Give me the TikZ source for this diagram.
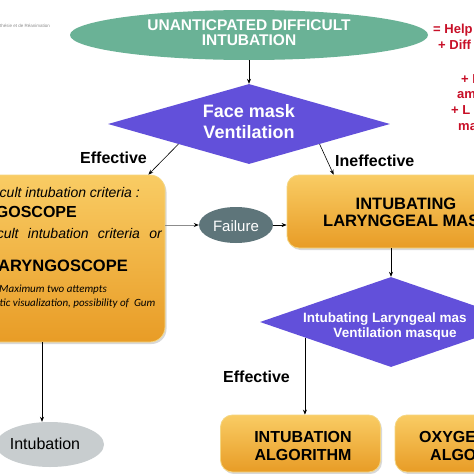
\documentclass[tikz,border=0pt]{standalone}
\usepackage{fontspec}
\setmainfont{Liberation Sans}
\newfontfamily\calib{Carlito}
\usetikzlibrary{shapes.geometric,arrows.meta,shadows,calc}
\definecolor{grn}{RGB}{106,178,150}
\definecolor{prp}{RGB}{98,80,218}
\definecolor{failc}{RGB}{94,117,122}
\definecolor{intc}{RGB}{200,205,207}
\definecolor{orT}{RGB}{249,204,100}
\definecolor{orB}{RGB}{232,156,38}
\definecolor{orE}{RGB}{244,214,130}
\definecolor{redt}{RGB}{200,16,40}
\begin{document}
\begin{tikzpicture}[x=1pt,y=-1pt,
 arr/.style={draw=black, line width=0.6pt, -{Stealth[length=5pt,width=4pt]}},
 garr/.style={draw=black!45, line width=1pt, -{Stealth[length=5pt,width=4pt,color=black]}},
 obox/.style={rectangle, rounded corners=12pt, top color=orT, bottom color=orB, draw=orE, line width=0.8pt, inner sep=0,
   drop shadow={opacity=0.3,shadow xshift=1.5pt,shadow yshift=-2pt}},
 dia/.style={diamond, fill=prp, inner sep=0},
 ell/.style={ellipse, inner sep=0},
 txt/.style={inner sep=0},
 fb/.style={font=\fontsize{#1}{#1}\selectfont\bfseries},
 fr/.style={font=\fontsize{#1}{#1}\selectfont},
 fi/.style={font=\fontsize{#1}{#1}\selectfont\itshape},
 fc/.style={font=\fontsize{#1}{#1}\selectfont\calib\itshape},
]
\useasboundingbox (0,0) rectangle (474,474);
\clip (0,0) rectangle (474,474);
\fill[white] (0,0) rectangle (474,474);

% tiny header text
\node[txt, anchor=base west, fr=4.5, text=black!45] (hdr) at (0,27) {thésie et de Réanimation};

% top ellipse
\node[ell, fill=grn, minimum width=358, minimum height=50] (top) at (249,35) {};
\node[txt, align=center, font=\fontsize{15.5}{14.5}\selectfont\bfseries, text=white] (t1) at (249,32.5) {UNANTICPATED DIFFICULT\\INTUBATION};

% red side text
\node[txt, anchor=base west, fb=13, text=redt] (r1) at (433,33) {= Help};
\node[txt, anchor=base west, fb=13, text=redt] (r2) at (438,49) {+ Diff};
\node[txt, anchor=base west, fb=13, text=redt] (r3) at (461,83) {+ I};
\node[txt, anchor=base west, fb=13, text=redt] (r4) at (457,98) {am};
\node[txt, anchor=base west, fb=13, text=redt] (r5) at (451,114) {+ L};
\node[txt, anchor=base west, fb=13, text=redt] (r6) at (458,130) {ma};

% face mask diamond
\node[dia, minimum width=282, minimum height=80] (fm) at (249,124) {};
\node[txt, anchor=base, fb=18, text=white] (fm1) at (249,117) {Face mask};
\node[txt, anchor=base, fb=18, text=white] (fm2) at (249,138) {Ventilation};

% left box
\node[obox, minimum width=195, minimum height=167, rounded corners=15pt] (lb) at (67.5,258.5) {};
\node[txt, anchor=base east, fi=14] (l1) at (140,197) {cult intubation criteria :};
\node[txt, anchor=base east, fb=16] (l2) at (77,217) {GOSCOPE};
\node[txt, anchor=base east, fi=14] (l3) at (162,238) {\makebox[165pt][s]{cult intubation criteria or}};
\node[txt, anchor=base east, fb=16.5] (l4) at (128,271) {ARYNGOSCOPE};
\node[txt, anchor=base west, fc=11] (l5) at (-1,292) {Maximum two attempts};
\node[txt, anchor=base west, fc=11] (l6) at (-0.5,306) {tic visualization, possibility of\ \ Gum};

% failure ellipse
\node[ell, fill=failc, minimum width=74, minimum height=36] (fail) at (236,225) {};
\node[txt, anchor=base, fr=15, text=white] (failt) at (236,231) {Failure};

% right box
\node[obox, minimum width=233, minimum height=73] (rb) at (403.5,211.5) {};
\node[txt, anchor=base, fb=16.5] (rb1) at (406,209) {INTUBATING};
\node[txt, anchor=base west, fb=16.5] (rb2) at (323,226) {LARYNGGEAL MAS};

% second diamond
\node[dia, minimum width=262, minimum height=90] (d2) at (391,322) {};
\node[txt, anchor=base west, fb=13.5, text=white] (d2a) at (303,322) {Intubating Laryngeal mas};
\node[txt, anchor=base, fb=13.5, text=white] (d2b) at (395,337) {Ventilation masque};

% bottom boxes
\node[obox, minimum width=160, minimum height=57] (ia) at (300.5,443.5) {};
\node[txt, anchor=base, fb=16] (ia1) at (303,442) {INTUBATION};
\node[txt, anchor=base, fb=16] (ia2) at (303,460) {ALGORITHM};
\node[obox, minimum width=165, minimum height=57] (ox) at (477.5,443.5) {};
\node[txt, anchor=base west, fb=16] (ox1) at (419,442) {OXYGE};
\node[txt, anchor=base west, fb=16] (ox2) at (430,460) {ALGO};

% intubation ellipse
\node[ell, fill=intc, minimum width=108, minimum height=45] (int) at (50,444.5) {};
\node[txt, anchor=base, fr=16] (intt) at (45,449) {Intubation};

% labels
\node[txt, anchor=base west, fb=16] (eff1) at (80,163) {Effective};
\node[txt, anchor=base west, fb=16] (ineff) at (335,166) {Ineffective};
\node[txt, anchor=base west, fb=16] (eff2) at (223,382) {Effective};

% connectors
\draw[arr] (top.south) -- (fm.north);
\draw[arr] (fm.south west) -- ([xshift=-17]lb.north east);
\draw[arr] (fm.south east) -- ([xshift=47]rb.north west);
\draw[garr] (fail.west -| lb.east) -- (fail.west);
\draw[arr] (fail.east) -- (fail.east -| rb.west);
\draw[arr] (rb.south -| d2.north) -- (d2.north);
\coordinate (p) at ($(d2.west)!0.344!(d2.south)$);
\draw[arr] (p) -- (p |- ia.north);
\draw[arr] ([xshift=-25.5]lb.south) -- ([xshift=-8]int.north);
\end{tikzpicture}
\end{document}
